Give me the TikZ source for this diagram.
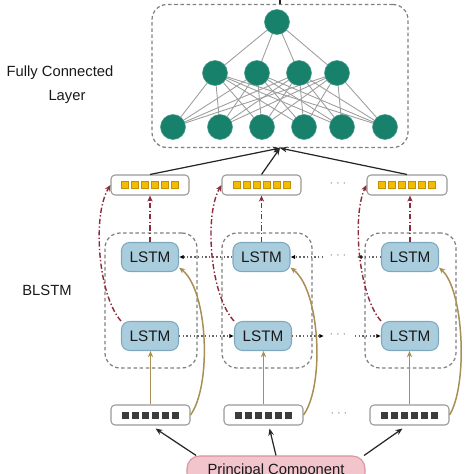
\documentclass[tikz,border=0pt]{standalone}
\usepackage{fontspec}
\setmainfont{Liberation Sans}
\usetikzlibrary{arrows.meta,backgrounds,calc}
\definecolor{neur}{HTML}{17816C}
\definecolor{lstmfill}{HTML}{A9CDDD}
\definecolor{lstmdraw}{HTML}{7EA8BE}
\definecolor{pcfill}{HTML}{F2C4CC}
\definecolor{pcdraw}{HTML}{D8939F}
\definecolor{redarr}{HTML}{8E2A3A}
\definecolor{goldarr}{HTML}{A88F55}
\definecolor{ysq}{HTML}{F4BC00}
\definecolor{ysqd}{HTML}{C49000}
\definecolor{dsq}{HTML}{3C3C3C}
\tikzset{
  txt/.style={font=\fontsize{8.4}{10}\selectfont, text=black!90},
  fcbox/.style={draw=black!50, dash pattern=on 2pt off 1.5pt, line width=0.7pt, rounded corners=0.3cm, minimum width=5.12cm, minimum height=2.86cm},
  blbox/.style={draw=black!50, dash pattern=on 2pt off 1.5pt, line width=0.7pt, rounded corners=0.3cm, minimum height=2.7cm},
  neuron/.style={circle, fill=neur, draw=neur!80!white, line width=0.3pt, minimum size=0.5cm, inner sep=0pt},
  nedge/.style={draw=black!38, line width=0.5pt},
  vecbox/.style={draw=black!40, fill=white, line width=0.6pt, rounded corners=0.08cm, minimum height=0.4cm, inner sep=0pt},
  lstm/.style={txt, font=\fontsize{8.7}{10}\selectfont, fill=lstmfill, draw=lstmdraw, line width=0.6pt, rounded corners=0.16cm, minimum width=1.14cm, minimum height=0.58cm, inner sep=0pt},
  pcnode/.style={txt, fill=pcfill, draw=pcdraw, line width=0.6pt, rounded corners=0.25cm, minimum width=3.56cm, minimum height=0.6cm, inner sep=0pt},
  blk/.style={draw=black!85, line width=0.7pt, -{Stealth[length=4pt,width=3.2pt]}},
  rec/.style={draw=black!60, line width=0.7pt, dash pattern=on 0.8pt off 1.3pt, -{Latex[length=2.6pt,width=2.4pt,black]}},
  redarrow/.style={draw=redarr, line width=0.8pt, dash pattern=on 3pt off 1.3pt on 0.8pt off 1.3pt, -{Stealth[length=3.5pt,width=3pt]}},
  goldarrow/.style={draw=goldarr, line width=0.85pt, -{Stealth[length=3.5pt,width=3pt]}},
  ell/.style={text=black!45, font=\fontsize{7}{8}\selectfont},
  ysquare/.style={fill=ysq, draw=ysqd, line width=0.3pt},
  dsquare/.style={fill=dsq}
}
\begin{document}
\begin{tikzpicture}[x=0.02cm,y=-0.02cm]
\useasboundingbox (0,0) rectangle (474,474);
\clip (0,0) rectangle (474,474);

% labels
\node[txt] (lab1) at (60,73) {Fully Connected};
\node[txt] (lab2) at (67,97) {Layer};
\node[txt] (lab3) at (47,290) {BLSTM};

% fully connected layer
\node[fcbox] (fc) at (280,76) {};
\coordinate (fctop) at (280,-2);
\draw[draw=black!85, line width=0.6pt] (fc.north) -- (fctop);
\node[neuron] (t) at (277,22) {};
\node[neuron] (m1) at (215,73) {};
\node[neuron] (m2) at (257,73) {};
\node[neuron] (m3) at (299,73) {};
\node[neuron] (m4) at (337,73) {};
\node[neuron] (b1) at (173,127) {};
\node[neuron] (b2) at (220,127) {};
\node[neuron] (b3) at (262,127) {};
\node[neuron] (b4) at (304,127) {};
\node[neuron] (b5) at (342,127) {};
\node[neuron] (b6) at (385,127) {};
\begin{scope}[on background layer]
  \foreach \m in {m1,m2,m3,m4} {
    \draw[nedge] (t.center) -- (\m.center);
    \foreach \b in {b1,b2,b3,b4,b5,b6} \draw[nedge] (\m.center) -- (\b.center);
  }
\end{scope}

% output vectors
\node[vecbox, minimum width=1.56cm] (o1) at (150,185) {};
\node[vecbox, minimum width=1.58cm] (o2) at (261.5,185) {};
\node[vecbox, minimum width=1.6cm] (o3) at (407,185) {};
\foreach \cx in {150,261.5,407} {
  \foreach \k in {-25,-15,-5,5,15,25} {
    \path[ysquare] (\cx+\k-3.5,181.5) rectangle (\cx+\k+3.5,188.5);
  }
}
\node[ell] (e1) at (338,184) {$\cdots$};

% input vectors
\node[vecbox, minimum width=1.58cm] (i1) at (150.5,415) {};
\node[vecbox, minimum width=1.58cm] (i2) at (263.5,415) {};
\node[vecbox, minimum width=1.58cm] (i3) at (409.5,415) {};
\foreach \cx in {150.5,263.5,409.5} {
  \foreach \k in {-25,-15,-5,5,15,25} {
    \path[dsquare] (\cx+\k-3.5,411.5) rectangle (\cx+\k+3.5,418.5);
  }
}
\node[ell] (e2) at (339,414) {$\cdots$};

% BLSTM boxes
\node[blbox, minimum width=1.84cm] (d1) at (151,300.5) {};
\node[blbox, minimum width=1.8cm] (d2) at (267,300.5) {};
\node[blbox, minimum width=1.82cm] (d3) at (410.5,300.5) {};

\node[lstm] (u1) at (150,257) {LSTM};
\node[lstm] (l1) at (150,336) {LSTM};
\node[lstm] (u2) at (261.5,257) {LSTM};
\node[lstm] (l2) at (263,336) {LSTM};
\node[lstm] (u3) at (410,257) {LSTM};
\node[lstm] (l3) at (410,336) {LSTM};

% principal component
\node[pcnode] (pc) at (276,471) {Principal Component};

% recurrent dotted arrows
\coordinate (fa) at (324,336);
\coordinate (fb) at (355,336);
\coordinate (ba) at (323,257);
\coordinate (bb) at (357,257);
\draw[rec] (l1.east) -- (l2.west);
\draw[rec] (l2.east) -- (fa);
\node[ell] (e3) at (338,335) {$\cdots$};
\draw[rec] (fb) -- (l3.west);
\draw[rec] (u2.west) -- (u1.east);
\draw[rec] (ba) -- (u2.east);
\node[ell] (e4) at (338,256) {$\cdots$};
\draw[rec] (u3.west) -- (bb);

% LSTM to output (red dash-dot)
\draw[redarrow] (u1.north) -- (u1.north |- o1.south);
\draw[redarrow] (u2.north) -- (u2.north |- o2.south);
\draw[redarrow] (u3.north) -- (u3.north |- o3.south);
\draw[redarrow] (l1.north west) .. controls (98,295) and (92,215) .. (o1.west);
\draw[redarrow] (l2.north west) .. controls (210,295) and (204,215) .. (o2.west);
\draw[redarrow] (l3.north west) .. controls (358,295) and (352,215) .. (o3.west);

% input to LSTM (gold)
\draw[goldarrow] (i1.north) -- (i1.north |- l1.south);
\draw[goldarrow] (i2.north) -- (i2.north |- l2.south);
\draw[goldarrow] (i3.north) -- (i3.north |- l3.south);
\draw[goldarrow] (i1.east) .. controls (212,385) and (208,290) .. (u1.-20);
\draw[goldarrow] (i2.east) .. controls (325,385) and (320,290) .. (u2.-20);
\draw[goldarrow] (i3.east) .. controls (468,385) and (464,290) .. (u3.-20);

% outputs to FC
\draw[blk] (o1.north) -- (fc.south);
\draw[blk] (o2.north) -- (fc.south);
\draw[blk] (o3.north) -- (fc.south);

% PC to inputs
\draw[blk] (pc.169) -- ($(i1.south)+(5,3)$);
\draw[blk] (pc.north) -- ($(i2.south)+(6,3)$);
\draw[blk] (pc.10) -- ($(i3.south)+(-7,3)$);
\end{tikzpicture}
\end{document}
